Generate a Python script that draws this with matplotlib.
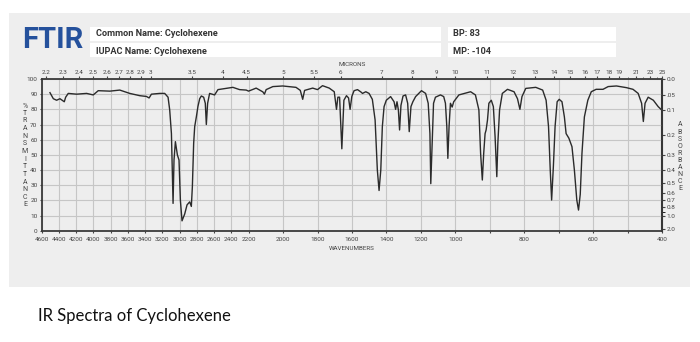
import numpy as np
import matplotlib.pyplot as plt
from matplotlib.patches import Rectangle

plt.rcParams['font.family'] = ['Roboto', 'DejaVu Sans']

# spectrum: wavenumber (cm-1) and % transmittance
wn = [4504, 4465, 4427, 4388, 4338, 4322, 4292, 4195, 4079, 4002, 3944, 3809, 3694, 3578,
      3462, 3385, 3354, 3327, 3230, 3173, 3134, 3115, 3095, 3076, 3065, 3049, 3026, 3007,
      2991, 2972, 2941, 2914, 2883, 2864, 2852, 2837, 2825, 2806, 2787, 2767, 2748, 2721,
      2702, 2690, 2675, 2652, 2594, 2555, 2382, 2304, 2227, 2200, 2156, 2117, 2108, 2098,
      2059, 2002, 1925, 1900, 1886, 1875, 1828, 1800, 1771, 1732, 1703, 1690, 1682, 1672,
      1659, 1647, 1632, 1620, 1611, 1601, 1588, 1568, 1549, 1539, 1520, 1501, 1482, 1466,
      1453, 1443, 1433, 1424, 1414, 1401, 1376, 1356, 1347, 1339, 1331, 1324, 1316, 1304,
      1289, 1277, 1268, 1258, 1247, 1231, 1197, 1173, 1158, 1148, 1143, 1135, 1127, 1116,
      1087, 1068, 1058, 1050, 1044, 1037, 1029, 1019, 1010, 990, 956, 942, 932, 927, 922,
      918, 914, 911, 907, 903, 896, 890, 885, 880, 877, 872, 864, 849, 830, 820, 813, 807,
      796, 767, 747, 737, 730, 725, 721, 716, 711, 705, 699, 691, 684, 679, 671, 662, 655,
      648, 643, 638, 633, 626, 616, 606, 592, 572, 557, 533, 504, 485, 470, 460, 455, 450,
      441, 426, 412, 402]
trans = [91, 87, 86, 87, 85, 88, 90.5, 90, 90.5, 89.5, 92.3, 92, 92.7, 90.5,
         89, 88.5, 87.5, 90, 90.5, 90.5, 88, 79.6, 64, 18, 46.6, 58.7, 50, 46.6,
         20, 6.5, 11, 17, 19, 16, 29, 57.6, 68.6, 75, 82, 87, 88.8, 88,
         84, 70, 84, 90.5, 89.5, 93, 94.5, 93, 92.7, 92, 94, 91.5, 90, 93,
         95, 95.4, 94.5, 92.5, 86.6, 92.5, 94, 93, 95.6, 94, 91.6, 80, 88, 88,
         54, 86, 89, 87.5, 80, 88.5, 92.3, 93, 91.5, 90.5, 91.6, 90.5, 86.6, 73,
         40, 26.5, 40, 68.6, 81.8, 86, 88.4, 85, 80, 85, 79.6, 66.4, 82.6, 88.8,
         89.5, 84, 65.3, 81.8, 85, 88.4, 92.3, 90.5, 84, 64, 31, 57.6, 84, 88,
         89.5, 88.4, 84, 68.6, 47.7, 68.6, 84, 81.5, 85, 89.5, 91.6, 89.5, 79.6, 51, 33.4,
         51, 64, 66.4, 73, 84, 86, 81.8, 62, 35.6, 57.6, 79.6, 90.5, 93.2, 91.6, 87, 80, 88.4,
         93.8, 94.5, 92.7, 86, 68.6, 40, 20.2, 42, 68.6, 85, 86.6, 85, 75, 64, 61, 55.4, 40,
         20.2, 13.6, 24, 51, 75, 86, 91.6, 93.2, 93.2, 95, 95.4, 94.3, 93.2, 90.5, 84, 72,
         84, 88, 86, 81.8, 79.6]

wn_ticks = [4600, 4400, 4200, 4000, 3800, 3600, 3400, 3200, 3000, 2800, 2600, 2400, 2200,
            2000, 1800, 1600, 1400, 1200, 1000, 900, 800, 700, 600, 500, 400]
wn_labels = [str(t) if t >= 1000 or t % 200 == 0 else '' for t in wn_ticks]
micron_ticks = [2.2, 2.3, 2.4, 2.5, 2.6, 2.7, 2.8, 2.9, 3, 3.5, 4, 4.5, 5, 5.5, 6, 7, 8, 9,
                10, 11, 12, 13, 14, 15, 16, 17, 18, 19, 21, 23, 25]
micron_minor = [20, 22, 24]
absorb = [0.0, 0.05, 0.1, 0.2, 0.3, 0.4, 0.5, 0.6, 0.7, 0.8, 1.0, 2.0]
absorb_labels = ['0.0', '.05', '0.1', '0.2', '0.3', '0.4', '0.5', '0.6', '0.7', '0.8', '1.0', '2.0']

# chart paper scale: 400-1000, 1000-2200, 2200-4600 each take a third of the width
bp_w = [400, 1000, 2200, 4600]
bp_u = [0, 6, 12, 18]


def fwd(w):
    return np.interp(w, bp_w, bp_u)


def inv(u):
    return np.interp(u, bp_u, bp_w)


def mic_fwd(m):
    m = np.clip(np.asarray(m, dtype=float), 1e-3, None)
    return -fwd(10000 / m)


def mic_inv(t):
    return 10000 / inv(-np.asarray(t, dtype=float))


W, H = 700, 342
fx = lambda x: x / W
fy = lambda y: 1 - y / H

fig = plt.figure(figsize=(7, 3.42), dpi=100)
fig.add_artist(Rectangle((fx(9), fy(287)), 681 / W, 274 / H, transform=fig.transFigure,
                         facecolor='#eeeeee', edgecolor='none', zorder=-2))
for x0, x1, y0, y1 in [(90, 441, 26.7, 41), (90, 441, 43.3, 57.3),
                       (448, 616, 26.7, 41), (448, 616, 43.3, 57.3)]:
    fig.add_artist(Rectangle((fx(x0), fy(y1)), (x1 - x0) / W, (y1 - y0) / H,
                             transform=fig.transFigure, facecolor='white',
                             edgecolor='none', zorder=-1))

fig.text(fx(22), fy(40), 'FTIR', color='#25519c', fontsize=21, fontweight='bold',
         ha='left', va='center')
hdr = dict(fontsize=6.6, fontweight='bold', color='#333333', ha='left', va='center')
fig.text(fx(96), fy(34), 'Common Name: Cyclohexene', **hdr)
fig.text(fx(96), fy(51), 'IUPAC Name: Cyclohexene', **hdr)
fig.text(fx(453), fy(34), 'BP: 83', **hdr)
fig.text(fx(453), fy(51), 'MP: -104', **hdr)

ax = fig.add_axes([fx(41.7), fy(230.7), (662.3 - 41.7) / W, (230.7 - 79) / H])
ax.set_facecolor('#eeeeee')
ax.set_xscale('function', functions=(fwd, inv))
ax.plot(wn, trans, color='#2b2b2b', lw=1.0)
ax.set_xlim(4600, 400)
ax.set_ylim(0, 100)
ax.set_xticks(wn_ticks, labels=wn_labels)
ax.xaxis.set_minor_locator(plt.NullLocator())
ax.set_yticks(range(0, 101, 10))
ax.grid(True, color='#c6c6c6', lw=0.8)
ax.set_axisbelow(True)
ax.tick_params(labelsize=4.6, colors='#444444', length=1.5, pad=1.5)
ax.tick_params(axis='x', pad=3)
for s in ax.spines.values():
    s.set_color('#3a3a3a')
    s.set_linewidth(1.3)

right = ax.secondary_yaxis('right')
right.set_yticks([100 * 10 ** -a for a in absorb], labels=absorb_labels)
right.set_yticks([100 * 10 ** -0.9], minor=True)
right.tick_params(labelsize=4.6, colors='#444444', length=2, pad=1)
right.spines['right'].set_color('#111111')
right.spines['right'].set_linewidth(1.5)

top = ax.twiny()
top.set_xscale('function', functions=(mic_fwd, mic_inv))
top.set_xlim(10000 / 4600, 25)
top.set_xticks(micron_ticks, labels=[f'{m:g}' for m in micron_ticks])
top.set_xticks(micron_minor, minor=True)
top.tick_params(axis='x', which='both', labelsize=4.6, colors='#444444', length=2.5,
                pad=0.5, direction='out')
top.tick_params(axis='x', which='minor', length=1.5)
for s in top.spines.values():
    s.set_visible(False)

fig.text(fx(352), fy(65), 'MICRONS', fontsize=4.5, color='#444444', ha='center', va='center')
fig.text(fx(352), fy(248), 'WAVENUMBERS', fontsize=4.5, color='#444444',
         ha='center', va='center')

fig.text(fx(25), fy(106.7), '%', fontsize=5, color='#444444', ha='center', va='center')
for i, ch in enumerate('TRANSMITTANCE'):
    fig.text(fx(25), fy(113.3 + i * 7.64), ch, fontsize=5, color='#444444',
             ha='center', va='center')
for i, ch in enumerate('ABSORBANCE'):
    fig.text(fx(680), fy(125 + i * 7.03), ch, fontsize=5, color='#444444',
             ha='center', va='center')

fig.text(fx(38), fy(316), 'IR Spectra of Cyclohexene', fontsize=12, color='#111111',
         family=['Lato', 'DejaVu Sans'], ha='left', va='center')

fig.savefig('out.png', dpi=100)
